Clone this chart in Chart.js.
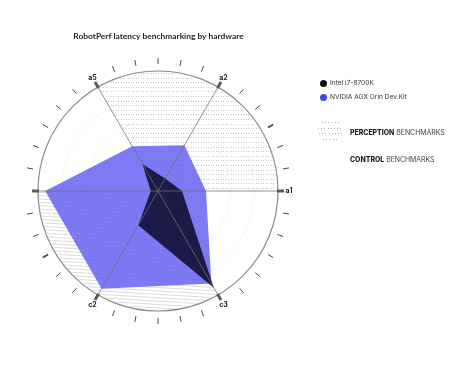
<!DOCTYPE html>
<html><head><meta charset="utf-8">
<script src="https://cdn.jsdelivr.net/npm/chart.js@4.4.1/dist/chart.umd.min.js"></script>
<style>
html,body{margin:0;padding:0;background:#fff;}
#wrap{position:relative;width:474px;height:366px;overflow:hidden;}
#c{position:absolute;left:0;top:0;}
.leg{position:absolute;font-family:Inter,'Noto Sans',sans-serif;color:#333;white-space:nowrap;line-height:1;}
.dot{position:absolute;width:7px;height:7px;border-radius:50%;}
.bm{font-size:6.9px;color:#444;}
.bm b{color:#1a1a1a;font-weight:800;}
</style></head><body>
<div id="wrap">
<canvas id="c" width="474" height="366"></canvas>
<div class="dot" style="left:319.5px;top:79.5px;background:#111;"></div>
<div class="leg" id="l0" style="left:330px;top:79.5px;font-size:6.6px;"></div>
<div class="dot" style="left:319.5px;top:93.5px;background:#4b45e0;"></div>
<div class="leg" id="l1" style="left:330px;top:93.5px;font-size:6.6px;"></div>
<canvas id="sw" width="30" height="24" style="position:absolute;left:316px;top:120px;"></canvas>
<div class="leg bm" style="left:350px;top:129.5px;"><b>PERCEPTION</b> BENCHMARKS</div>
<div class="leg bm" style="left:350px;top:156.5px;"><b>CONTROL</b> BENCHMARKS</div>
</div>
<script>
// ---- data ----
const categories = ['a1', 'c3', 'c2', '', 'a5', 'a2'];
const intelValues = [20, 93, 33, 6, 26, 12];
const nvidiaValues = [40, 89, 94, 94, 43, 44];
const seriesNames = ['Intel i7-8700K', 'NVIDIA AGX Orin Dev.Kit'];
const scaleMin = 0;
const scaleMax = 100;
const gridStep = 20;
const titleText = 'RobotPerf latency benchmarking by hardware';

document.getElementById('l0').textContent = seriesNames[0];
document.getElementById('l1').textContent = seriesNames[1];

// legend swatch (dotted)
(function(){
  const c = document.getElementById('sw').getContext('2d');
  c.fillStyle = '#b0b0b0';
  const rows = [[6,22],[2,26],[3,26],[7,22]];
  rows.forEach((r,i)=>{ for(let x=r[0]; x<=r[1]; x+=3.2) c.fillRect(Math.round(x), 2+Math.round(i*5.5), 1, 1); });
})();

const deg = Math.PI/180;
const decoPlugin = {
  id: 'deco',
  beforeDraw(chart){
    const s = chart.scales.r, ctx = chart.ctx;
    const cx = s.xCenter, cy = s.yCenter, R = s.drawingArea;
    // perception sector: dotted
    ctx.save();
    ctx.beginPath(); ctx.moveTo(cx,cy); ctx.arc(cx,cy,R-1,-120*deg,0); ctx.closePath(); ctx.clip();
    ctx.fillStyle = '#cccccc';
    for (let y = cy - R + 2; y < cy; y += 4.6) {
      for (let x = cx - R; x < cx + R; x += 2.5) ctx.fillRect(Math.round(x), Math.round(y), 1, 1);
    }
    ctx.restore();
    // control sector: hatched lines
    ctx.save();
    ctx.beginPath(); ctx.moveTo(cx,cy); ctx.arc(cx,cy,R-1,60*deg,180*deg); ctx.closePath(); ctx.clip();
    ctx.strokeStyle = '#cdcdcd'; ctx.lineWidth = 0.7;
    for (let y = cy - 40; y < cy + R + 40; y += 3.4) {
      ctx.beginPath(); ctx.moveTo(cx - R - 5, y); ctx.lineTo(cx + R, y + R * 0.12); ctx.stroke();
    }
    ctx.restore();
  },
  afterDatasetsDraw(chart){
    const s = chart.scales.r, ctx = chart.ctx;
    const cx = s.xCenter, cy = s.yCenter, R = s.drawingArea;
    const n = chart.data.labels.length;
    ctx.save();
    // outer circle
    ctx.strokeStyle = '#8c8c8c'; ctx.lineWidth = 1.2;
    ctx.beginPath(); ctx.arc(cx,cy,R,0,2*Math.PI); ctx.stroke();
    // spokes
    ctx.strokeStyle = 'rgba(110,110,110,0.75)'; ctx.lineWidth = 1;
    for (let i=0;i<n;i++){
      const p = s.getPointPosition(i, R);
      ctx.beginPath(); ctx.moveTo(cx,cy); ctx.lineTo(p.x,p.y); ctx.stroke();
    }
    // stubs
    ctx.strokeStyle = '#5a5a5a'; ctx.lineWidth = 3;
    for (let i=0;i<n;i++){
      const a = s.getPointPosition(i, R-1), b = s.getPointPosition(i, R+6);
      ctx.beginPath(); ctx.moveTo(a.x,a.y); ctx.lineTo(b.x,b.y); ctx.stroke();
    }
    // outer ticks every 10 degrees
    ctx.strokeStyle = '#4a4a4a';
    for (let d=0; d<360; d+=10){
      if (d % 60 === 0) continue;
      const a = -d*deg;
      ctx.lineWidth = (d===30||d===210)?2:1;
      ctx.beginPath();
      ctx.moveTo(cx + Math.cos(a)*(R+7), cy + Math.sin(a)*(R+7));
      ctx.lineTo(cx + Math.cos(a)*(R+13), cy + Math.sin(a)*(R+13));
      ctx.stroke();
    }
    // axis labels
    ctx.fillStyle = '#222';
    ctx.font = 'bold 7px Inter, "Noto Sans", sans-serif';
    ctx.textAlign = 'center'; ctx.textBaseline = 'middle';
    for (let i=0;i<n;i++){
      const p = s.getPointPosition(i, R+11);
      ctx.fillText(chart.data.labels[i], p.x, p.y);
    }
    ctx.restore();
  }
};

new Chart(document.getElementById('c'), {
  type: 'radar',
  data: {
    labels: categories,
    datasets: [
      { label: seriesNames[0], data: intelValues, backgroundColor: 'rgba(22,20,58,0.93)', borderWidth: 0, pointRadius: 0, fill: true },
      { label: seriesNames[1], data: nvidiaValues, backgroundColor: 'rgba(104,100,242,0.86)', borderWidth: 0, pointRadius: 0, fill: true }
    ]
  },
  options: {
    responsive: false,
    animation: false,
    layout: { padding: { left: 38, right: 195, top: 0, bottom: 54 } },
    plugins: {
      legend: { display: false },
      tooltip: { enabled: false },
      title: { display: true, text: titleText, color: '#1e1e1e',
        font: { family: 'Lato, Inter, sans-serif', size: 8.4, weight: 'bold' },
        padding: { top: 30.8, bottom: 29.9 } }
    },
    scales: {
      r: {
        min: scaleMin, max: scaleMax, startAngle: 90,
        ticks: { display: false, stepSize: gridStep },
        pointLabels: { display: false },
        angleLines: { display: false },
        grid: { circular: true, color: '#dcdcdc', lineWidth: 0.8 },
        border: { dash: [1.2, 2.4] }
      }
    }
  },
  plugins: [decoPlugin]
});
</script>
</body></html>
